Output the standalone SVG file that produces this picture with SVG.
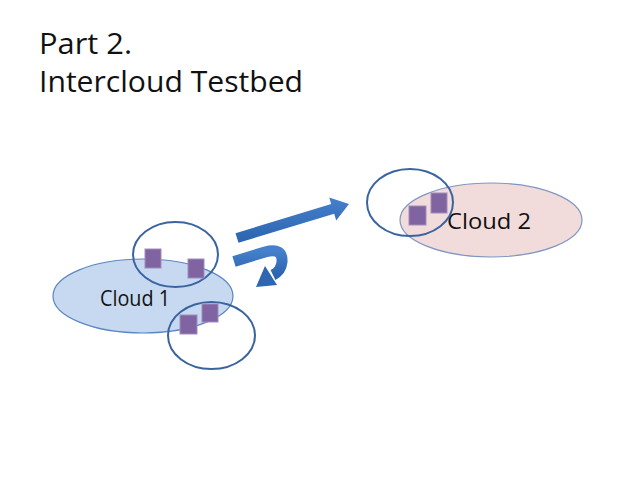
<svg xmlns="http://www.w3.org/2000/svg" width="638" height="478" viewBox="0 0 638 478">
<style>
.t{font-family:"Open Sans","Noto Sans","Liberation Sans",sans-serif;fill:#111}
.ring{fill:none;stroke:#3a64a0;stroke-width:2}
.sq{fill:#8064a2;stroke:#9f8cbd;stroke-width:1}
</style>
<defs>
<linearGradient id="ag" x1="0" y1="0" x2="0" y2="1">
<stop offset="0" stop-color="#4580cc"/>
<stop offset="1" stop-color="#2c64ae"/>
</linearGradient>
</defs>
<rect width="638" height="478" fill="#fff"/>
<g id="title">
<text class="t" x="39" y="54" font-size="30" textLength="93" lengthAdjust="spacingAndGlyphs">Part 2.</text>
<text class="t" x="39" y="92" font-size="30" textLength="264" lengthAdjust="spacingAndGlyphs">Intercloud Testbed</text>
</g>
<g id="cloud1">
<ellipse cx="143" cy="296" rx="90" ry="37" fill="#c6d9f1" stroke="#5b86c0" stroke-width="1.2"/>
<text class="t" x="100" y="306" font-size="21.5" textLength="70" lengthAdjust="spacingAndGlyphs">Cloud 1</text>
</g>
<g id="cloud2">
<ellipse cx="491" cy="220" rx="91" ry="37" fill="#f2dcdb" stroke="#7f96c2" stroke-width="1.2"/>
<text class="t" x="447" y="229" font-size="21.5" textLength="84" lengthAdjust="spacingAndGlyphs">Cloud 2</text>
</g>
<g id="ring1">
<ellipse class="ring" cx="175.5" cy="254.5" rx="42.5" ry="32.5"/>
<rect class="sq" x="145" y="249" width="16" height="19"/>
<rect class="sq" x="188" y="259" width="16" height="19"/>
</g>
<g id="ring2">
<ellipse class="ring" cx="211.5" cy="335.5" rx="43.5" ry="33.5"/>
<rect class="sq" x="180" y="315" width="17" height="19"/>
<rect class="sq" x="202" y="304" width="16" height="18"/>
</g>
<g id="ring3">
<ellipse class="ring" cx="410" cy="202.5" rx="43" ry="33.5"/>
<rect class="sq" x="409" y="206" width="17" height="19"/>
<rect class="sq" x="431" y="193" width="16" height="20"/>
</g>
<g id="connectors">
<polygon fill="url(#ag)" points="235.5,233.2 331.2,204.1 329.2,197.4 349,204 336.2,220.4 334.2,213.7 238.5,242.8"/>
<path d="M234,261.5 L265,252 Q283,247 282,262 Q281,271 273,275" fill="none" stroke="url(#ag)" stroke-width="11"/>
<polygon fill="#2f66b0" points="265,266 277,285 256,287"/>
</g>
</svg>
